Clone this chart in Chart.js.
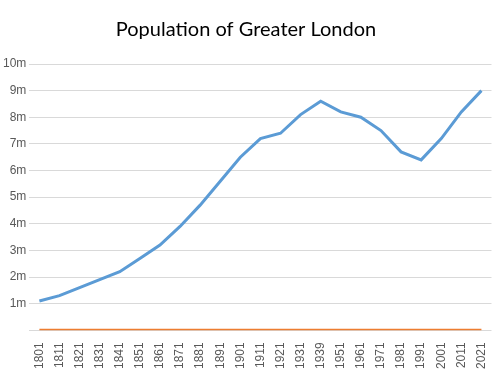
<!DOCTYPE html>
<html>
<head>
<meta charset="utf-8">
<script src="https://cdn.jsdelivr.net/npm/chart.js@4"></script>
<style>
  html, body { margin: 0; padding: 0; background: #fff; }
  #wrap { width: 500px; height: 375px; }
</style>
</head>
<body>
<div id="wrap"><canvas id="chart"></canvas></div>
<script>
const years = ["1801","1811","1821","1831","1841","1851","1861","1871","1881","1891","1901",
  "1911","1921","1931","1939","1951","1961","1971","1981","1991","2001","2011","2021"];
// population in millions
const population = [1.1, 1.3, 1.6, 1.9, 2.2, 2.7, 3.2, 3.9, 4.7, 5.6, 6.5,
  7.2, 7.4, 8.1, 8.6, 8.2, 8.0, 7.5, 6.7, 6.4, 7.2, 8.2, 9.0];
const baseline = [0,0,0,0,0,0,0,0,0,0,0,0,0,0,0,0,0,0,0,0,0,0,0];

const tickGrey = "#595959";

new Chart(document.getElementById("chart"), {
  type: "line",
  data: {
    labels: years,
    datasets: [
      { label: "Population", data: population, borderColor: "#5B9BD5", borderWidth: 3,
        pointRadius: 0, tension: 0, fill: false },
      { label: "Baseline", data: baseline, borderColor: "#ED7D31", borderWidth: 3,
        pointRadius: 0, tension: 0, fill: false }
    ]
  },
  options: {
    animation: false,
    responsive: true,
    maintainAspectRatio: false,
    layout: { padding: { left: 0, right: 8, top: 14, bottom: 2 } },
    plugins: {
      legend: { display: false },
      title: {
        display: true,
        text: "Population of Greater London",
        color: "#000",
        font: { family: "Lato", size: 20, weight: "normal" },
        padding: { top: 4, bottom: 22 }
      }
    },
    scales: {
      x: {
        offset: true,
        grid: { display: false },
        border: { display: false },
        ticks: {
          color: tickGrey, autoSkip: false, maxRotation: 90, minRotation: 90,
          font: { family: "Liberation Sans", size: 12 }, padding: 4
        }
      },
      y: {
        min: 0, max: 10,
        grid: { color: "#D9D9D9", drawTicks: false },
        border: { display: false },
        ticks: {
          stepSize: 1, color: tickGrey, padding: 3,
          font: { family: "Liberation Sans", size: 12 },
          callback: v => v === 0 ? "" : v + "m"
        }
      }
    }
  }
});
</script>
</body>
</html>
